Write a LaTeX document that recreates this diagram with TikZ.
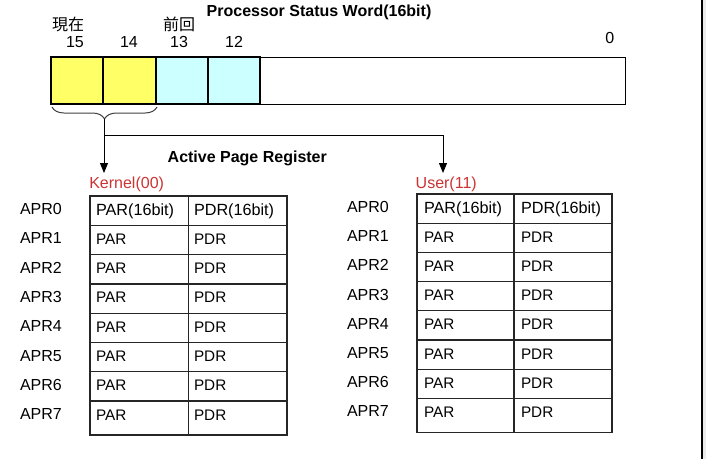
\documentclass[tikz,border=0pt]{standalone}
\usepackage{fontspec}
\setmainfont{Liberation Sans}
\newfontfamily\cjk{Noto Sans CJK JP}
\usetikzlibrary{arrows.meta,decorations.pathreplacing}
\definecolor{psy}{HTML}{FFFF66}
\definecolor{psc}{HTML}{CCFFFF}
\definecolor{kred}{HTML}{CC3333}
\begin{document}
\begin{tikzpicture}[x=1pt,y=-1pt,
  every node/.style={inner sep=0pt,outer sep=0pt},
  txt/.style={font=\fontsize{16}{18}\selectfont},
  ctxt/.style={font=\fontsize{15.3}{17}\selectfont, anchor=base west},
  wtxt/.style={font=\fontsize{16.2}{18}\selectfont, anchor=base west},
  btxt/.style={font=\fontsize{16}{18}\selectfont\bfseries, anchor=base west},
  rtxt/.style={font=\fontsize{16}{18}\selectfont, text=kred, anchor=base west},
  pswcell/.style={draw, line width=2pt, minimum width=52.3pt, minimum height=47pt},
  pswrest/.style={draw, line width=1pt, minimum width=365.5pt, minimum height=47pt, anchor=west},
  tcell/.style={draw=black!85, line width=1.3pt, anchor=north west},
  conn/.style={draw, line width=1pt},
  arr/.style={conn, -{Triangle[width=8pt,length=10pt]}}
]
\useasboundingbox (0,0) rectangle (706,459);
\fill[white] (0,0) rectangle (706,459);
% right edge strip
\fill[black!8] (702,0) rectangle (706,459);
\draw[line width=2pt] (702,0) -- (702,459);

% title
\node[btxt] (title) at (206.7,16) {Processor Status Word(16bit)};

% PSW register
\node[pswrest] (rest) at (260.2,80.8) {};
\node[pswcell, fill=psy] (c15) at (77.15,80.8) {};
\node[pswcell, fill=psy] (c14) at (129.45,80.8) {};
\node[pswcell, fill=psc] (c13) at (181.75,80.8) {};
\node[pswcell, fill=psc] (c12) at (234.05,80.8) {};

\node[txt, anchor=base] (n15) at (75,47) {15};
\node[txt, anchor=base] (n14) at (129,47) {14};
\node[txt, anchor=base] (n13) at (179,47) {13};
\node[txt, anchor=base] (n12) at (234,47) {12};
\node[txt, anchor=base] (n0) at (609.7,43) {0};
\node[txt, anchor=west] (now) at (52,24.5) {\cjk 現在};
\node[txt, anchor=west] (prev) at (163,24.5) {\cjk 前回};

% brace
\draw[black!75, line width=1pt, decorate, decoration={brace, mirror, amplitude=12pt}]
  (52,107) -- (157,107);
\coordinate (bt) at (104,119);
\coordinate (j) at (104,135.7);
\coordinate (ka) at (104,173);
\coordinate (ua) at (443,173);
\draw[arr] (bt) -- (ka);
\draw[arr] (j) -| (ua);

\node[btxt] (apr) at (167.7,162) {Active Page Register};
\node[rtxt] (kern) at (89.3,188) {Kernel(00)};
\node[rtxt] (user) at (415.7,188) {User(11)};

% kernel and user tables
\foreach \i in {0,...,7}{
  \pgfmathsetmacro{\yt}{196+29.3*\i}
  \pgfmathsetmacro{\h}{ifthenelse(\i==7,34,29.3)}
  \node[tcell, minimum width=98.5pt, minimum height=\h pt] (k\i p) at (90,\yt) {};
  \node[tcell, minimum width=98.5pt, minimum height=\h pt] (k\i d) at (188.5,\yt) {};
  \node[txt, anchor=base west] (ka\i) at (20,\yt+18.5) {APR\i};
  \pgfmathsetmacro{\yu}{194+29.2*\i}
  \pgfmathsetmacro{\hu}{ifthenelse(\i==7,34.3,29.2)}
  \node[tcell, minimum width=97pt, minimum height=\hu pt] (u\i p) at (417,\yu) {};
  \node[tcell, minimum width=98pt, minimum height=\hu pt] (u\i d) at (514,\yu) {};
  \node[txt, anchor=base west] (ua\i) at (347,\yu+18.5) {APR\i};
}
\node[wtxt] (k0pt) at ([xshift=6pt,yshift=-19pt]k0p.north west) {PAR(16bit)};
\node[wtxt] (k0dt) at ([xshift=5.5pt,yshift=-19pt]k0d.north west) {PDR(16bit)};
\node[wtxt] (u0pt) at ([xshift=7pt,yshift=-19pt]u0p.north west) {PAR(16bit)};
\node[wtxt] (u0dt) at ([xshift=7pt,yshift=-19pt]u0d.north west) {PDR(16bit)};
\foreach \i in {1,...,7}{
  \node[ctxt] (k\i pt) at ([xshift=6pt,yshift=-19pt]k\i p.north west) {PAR};
  \node[ctxt] (k\i dt) at ([xshift=5.5pt,yshift=-19pt]k\i d.north west) {PDR};
  \node[ctxt] (u\i pt) at ([xshift=7pt,yshift=-19pt]u\i p.north west) {PAR};
  \node[ctxt] (u\i dt) at ([xshift=7pt,yshift=-19pt]u\i d.north west) {PDR};
}
\end{tikzpicture}
\end{document}
